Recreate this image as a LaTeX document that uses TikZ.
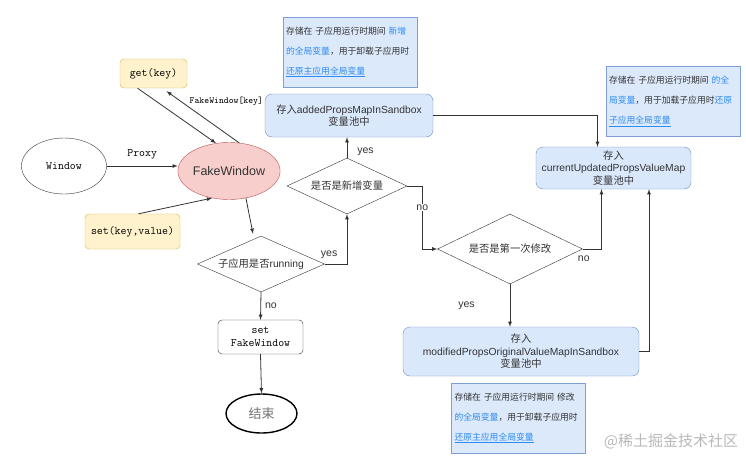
\documentclass[tikz,border=0pt]{standalone}
\usepackage{fontspec}
\setmainfont{Liberation Sans}
\newfontfamily\cjk{Noto Sans CJK SC}
\usetikzlibrary{shapes.geometric}
\definecolor{linegray}{HTML}{333333}
\definecolor{yelfill}{HTML}{FFF2CC}
\definecolor{yelline}{HTML}{D6B656}
\definecolor{redfill}{HTML}{F8CECC}
\definecolor{redline}{HTML}{B85450}
\definecolor{boxfill}{HTML}{DAE8FC}
\definecolor{boxline}{HTML}{6C8EBF}
\definecolor{notefill}{HTML}{DCE9FB}
\definecolor{noteline}{HTML}{7D9FD3}
\definecolor{noteblue}{HTML}{2E8BF0}
\newcommand{\zh}[1]{{\cjk #1}}
\newcommand{\hl}[1]{\textcolor{noteblue}{#1}}
\begin{document}
\begin{tikzpicture}[x=1pt,y=1pt,>=latex]
\tikzstyle{every node}+=[inner sep=0pt,text=linegray]
\tikzstyle{mono}=[text=black,font=\ttfamily\fontsize{11.5}{13}\selectfont]
\tikzstyle{yel}=[mono,draw=yelline,fill=yelfill,rounded corners=4pt]
\tikzstyle{dec}=[diamond,draw=linegray,fill=white,shape aspect=2.2,font=\fontsize{10.3}{12}\selectfont]
\tikzstyle{pool}=[draw=boxline,fill=boxfill,rounded corners=7pt,align=center,font=\fontsize{10.3}{12.5}\selectfont]
\tikzstyle{note}=[draw=noteline,fill=notefill,text width=128pt,align=left,minimum height=70pt,inner sep=3pt,font=\cjk\fontsize{8.8}{20}\selectfont]
\tikzstyle{lbl}=[font=\fontsize{10.5}{12}\selectfont,inner sep=1pt]
\tikzstyle{conn}=[draw=linegray,line width=0.8pt,->]
\useasboundingbox (0,0) rectangle (746,-466);
\node [mono,ellipse,draw=linegray,fill=white,minimum width=85pt,minimum height=56pt] (wnd) at (64,-166) {Window};
\node [ellipse,draw=redline,fill=redfill,minimum width=86pt,minimum height=57pt,font=\fontsize{12.5}{14}\selectfont] (fw) at (229,-171) {FakeWindow};
\node [yel,minimum width=67pt,minimum height=29pt] (getk) at (153.5,-73.5) {get(key)};
\node [yel,minimum width=95pt,minimum height=35pt] (setk) at (132.5,-231.5) {set(key,value)};
\node [dec,minimum width=127pt,minimum height=56pt] (d1) at (261,-264) {\zh{子应用是否}running};
\node [dec,minimum width=120pt,minimum height=56pt] (d2) at (347,-186) {\zh{是否是新增变量}};
\node [dec,minimum width=145pt,minimum height=70pt] (d3) at (510,-249) {\zh{是否是第一次修改}};
\node [pool,minimum width=168pt,minimum height=43pt] (added) at (349,-115.5) {\zh{存入}addedPropsMapInSandbox\\\zh{变量池中}};
\node [pool,minimum width=155pt,minimum height=42pt] (cur) at (613.5,-168) {\zh{存入}\\currentUpdatedPropsValueMap\\\zh{变量池中}};
\node [pool,minimum width=236pt,minimum height=49pt] (mod) at (521,-351.5) {\zh{存入}\\modifiedPropsOriginalValueMapInSandbox\\\zh{变量池中}};
\node [mono,draw=linegray,fill=white,rounded corners=4pt,align=center,minimum width=85pt,minimum height=34pt] (sfw) at (260.5,-337) {set\\FakeWindow};
\node [ellipse,draw=black,line width=1.4pt,fill=white,minimum width=71pt,minimum height=39pt,text=black!55,font=\cjk\fontsize{13}{15}\selectfont] (endn) at (261.5,-413.5) {结束};
\node [note] (notea) at (350,-52) {存储在 子应用运行时期间 \hl{新增}\\\hl{的全局变量}，用于卸载子应用时\\\hl{\underline{还原主应用全局变量}}};
\node [note] (noteb) at (673,-101.5) {存储在 子应用运行时期间 \hl{的全}\\\hl{局变量}，用于加载子应用时\hl{还原}\\\hl{\underline{子应用全局变量}}};
\node [note] (notec) at (518.5,-418) {存储在 子应用运行时期间 修改\\\hl{的全局变量}，用于卸载子应用时\\\hl{\underline{还原主应用全局变量}}};
\node [font=\cjk\fontsize{15}{17}\selectfont,text=black!28] (wm) at (671,-441) {@稀土掘金技术社区};
\draw [conn] (wnd.east) -- node [lbl,mono,above=5pt] {Proxy} (wnd.east -| fw.west);
\draw [conn] ([xshift=-16pt]getk.south) -- (fw.115);
\draw [conn] (fw.70) -- node [lbl,pos=0.7,above right,text=black,font=\ttfamily\fontsize{9.3}{11}\selectfont] {FakeWindow[key]} ([xshift=13pt,yshift=-3pt]getk.south);
\draw [conn] ([xshift=6pt]setk.north) -- (fw.238);
\draw [conn] (fw.302) -- ([xshift=-8pt,yshift=2pt]d1.north);
\draw [conn] (d1.east) -| node [lbl,pos=0.1,above=4pt] {yes} (d2.south);
\draw [conn] (d2.north) -- node [lbl,pos=0.3,right=9pt] {yes} (d2.north |- added.south);
\draw [conn] (d2.east) -| node [lbl,pos=0.67,fill=white] {no} ([xshift=-15pt]d3.west) -- (d3.west);
\draw [conn] (d3.east) -| node [lbl,pos=0.03,below=5pt] {no} ([xshift=-12pt]cur.south);
\draw [conn] (d3.south) -- node [lbl,midway,left=34pt] {yes} (d3.south |- mod.north);
\draw [conn] (mod.east) -| ([xshift=35.5pt]cur.south);
\draw [conn] (added.east) -| ([xshift=-16pt]cur.north);
\draw [conn] (d1.south) -- node [lbl,midway,right=3pt] {no} (sfw.north);
\draw [conn] (sfw.south) -- (endn.north);
\end{tikzpicture}
\end{document}
